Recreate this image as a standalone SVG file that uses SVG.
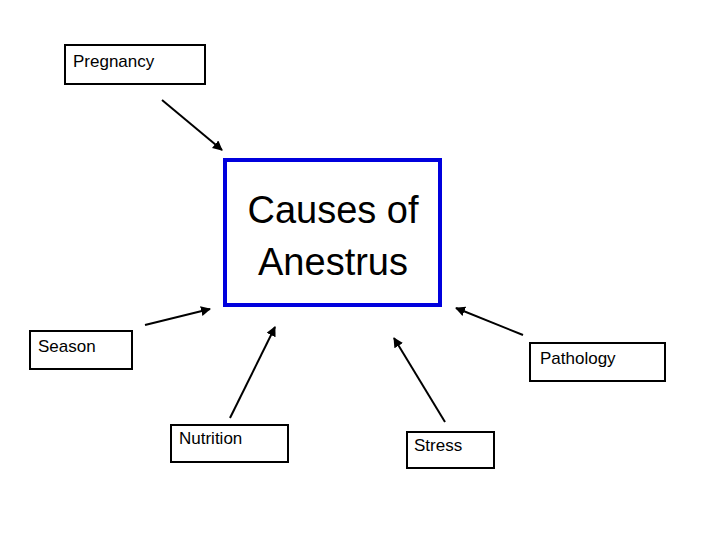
<svg xmlns="http://www.w3.org/2000/svg" width="720" height="540" viewBox="0 0 720 540">
<style>
.b{fill:#fff;stroke:#000;stroke-width:2}
.t{font-family:"Liberation Sans",Arial,sans-serif;font-size:17px;fill:#000}
.c{stroke:#000;stroke-width:2;fill:none;marker-end:url(#a)}
</style>
<defs><marker id="a" viewBox="0 0 10 10" refX="9" refY="5" markerWidth="5" markerHeight="5" orient="auto"><path d="M0,0L10,5L0,10z" fill="#000"/></marker></defs>
<rect width="720" height="540" fill="#fff"/>
<g id="pregnancy"><rect class="b" x="65" y="45" width="140" height="39"/><text class="t" x="73" y="67">Pregnancy</text></g>
<g id="center"><rect x="225" y="160" width="215" height="145" fill="#fff" stroke="#0000dd" stroke-width="4"/><text x="333" y="223" text-anchor="middle" font-family="Liberation Sans,Arial,sans-serif" font-size="38">Causes of</text><text x="333" y="275" text-anchor="middle" font-family="Liberation Sans,Arial,sans-serif" font-size="38">Anestrus</text></g>
<g id="season"><rect class="b" x="30" y="331" width="102" height="38"/><text class="t" x="38" y="352">Season</text></g>
<g id="pathology"><rect class="b" x="530" y="343" width="135" height="38"/><text class="t" x="540" y="364">Pathology</text></g>
<g id="nutrition"><rect class="b" x="171" y="425" width="117" height="37"/><text class="t" x="179" y="444">Nutrition</text></g>
<g id="stress"><rect class="b" x="407" y="432" width="87" height="36"/><text class="t" x="414" y="451">Stress</text></g>
<g id="connectors">
<line class="c" x1="162" y1="100" x2="222" y2="150"/>
<line class="c" x1="145" y1="325" x2="210" y2="309"/>
<line class="c" x1="230" y1="418" x2="275" y2="327"/>
<line class="c" x1="445" y1="422" x2="394" y2="338"/>
<line class="c" x1="523" y1="335" x2="456" y2="308"/>
</g>
</svg>
